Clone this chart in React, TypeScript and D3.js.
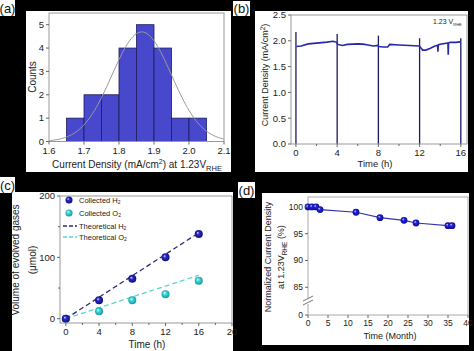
import React from "react";
import * as d3 from "d3";

const FONT = "'Liberation Sans', Arial, sans-serif";
const INK = "#222";
const AXIS = "#666";

// (a) histogram of current density at 1.23 V
const binStarts = [1.65, 1.7, 1.75, 1.8, 1.85, 1.9, 1.95, 2.0];
const binCounts = [1, 2, 2, 4, 5, 4, 1, 1];
const binWidth = 0.05;
const fitMean = 1.865;
const fitSd = 0.085;
const histTicksX = [1.6, 1.7, 1.8, 1.9, 2.0, 2.1];
const histTicksY = [0, 1, 2, 3, 4, 5];

// (b) chronoamperometry, 16 h
const stabTime = [0.05, 0.5, 1.2, 2, 3, 3.6, 3.95, 4.05, 4.5, 5, 6, 6.5, 7, 7.5, 7.95, 8.05, 8.5, 8.9, 9.1, 10, 11, 11.95, 12.05, 12.3, 12.6, 13, 13.5, 13.75, 13.78, 13.81, 14, 14.75, 14.78, 14.81, 15, 15.5, 15.95];
const stabCurrent = [1.89, 1.9, 1.94, 1.955, 1.975, 1.99, 1.97, 1.93, 1.91, 1.93, 1.94, 1.935, 1.92, 1.9, 1.91, 1.89, 1.88, 1.88, 1.93, 1.92, 1.91, 1.9, 1.88, 1.82, 1.82, 1.85, 1.9, 1.915, 1.79, 1.92, 1.935, 1.96, 1.73, 1.96, 1.97, 1.97, 1.98];
const restartTimes = [0, 4, 8, 12, 16];
const restartPeaks = [2.17, 2.13, 2.1, 2.05, 2.05];
const stabTicksX = [0, 4, 8, 12, 16];
const stabTicksY = [0, 0.5, 1, 1.5, 2, 2.5];

// (c) evolved gases
const gasTimes = [0, 4, 8, 12, 16];
const collectedH2 = [0, 30, 65, 100, 138];
const collectedO2 = [0, 12, 30, 40, 62];
const theoryTimes = [0, 16];
const theoreticalH2 = [0, 140];
const theoreticalO2 = [0, 71];
const gasTicksX = [0, 4, 8, 12, 16, 20];
const gasTicksY = [0, 100, 200];

// (d) long-term storage
const months = [0, 1, 2, 3, 12, 18, 24, 27, 35, 36];
const normalized = [100, 100, 100, 99.5, 99, 98, 97.5, 97, 96.5, 96.5];
const monthTicks = [0, 5, 10, 15, 20, 25, 30, 35, 40];
const normTicks = [0, 85, 90, 95, 100];

function PanelLabel({ x, y, w, h, text }: { x: number; y: number; w: number; h: number; text: string }) {
  return (
    <g>
      <rect x={x} y={y} width={w} height={h} fill="#fff" />
      <text x={x + w / 2} y={y + h / 2 + 4.5} textAnchor="middle" fontSize={13} fill="#111">
        {text}
      </text>
    </g>
  );
}

function LeftTicks({ scale, values, x, fmt, size = 9.5, minor = [] as number[] }: any) {
  return (
    <g>
      {values.map((v: number) => (
        <g key={"l" + v}>
          <line x1={x - 3} x2={x} y1={scale(v)} y2={scale(v)} stroke={AXIS} />
          <text x={x - 5} y={scale(v)} dy="0.35em" textAnchor="end" fontSize={size} fill={INK}>
            {fmt(v)}
          </text>
        </g>
      ))}
      {minor.map((v: number) => (
        <line key={"m" + v} x1={x - 2} x2={x} y1={scale(v)} y2={scale(v)} stroke={AXIS} />
      ))}
    </g>
  );
}

function BottomTicks({ scale, values, y, fmt, size = 9.5, minor = [] as number[] }: any) {
  return (
    <g>
      {values.map((v: number) => (
        <g key={"b" + v}>
          <line x1={scale(v)} x2={scale(v)} y1={y} y2={y + 3} stroke={AXIS} />
          <text x={scale(v)} y={y + 5} dy="0.75em" textAnchor="middle" fontSize={size} fill={INK}>
            {fmt(v)}
          </text>
        </g>
      ))}
      {minor.map((v: number) => (
        <line key={"m" + v} x1={scale(v)} x2={scale(v)} y1={y} y2={y + 2} stroke={AXIS} />
      ))}
    </g>
  );
}

export default function App() {
  // ---- (a)
  const xa = d3.scaleLinear().domain([1.6, 2.1]).range([49, 224]);
  const ya = d3.scaleLinear().domain([0, 5.5]).range([141.5, 13]);
  const total = d3.sum(binCounts);
  const amp = (total * binWidth) / (fitSd * Math.sqrt(2 * Math.PI));
  const fitPts = d3.range(1.6, 2.1001, 0.005).map((x) => [x, amp * Math.exp(-0.5 * ((x - fitMean) / fitSd) ** 2)] as [number, number]);
  const fitLine = d3.line<[number, number]>().x((d) => xa(d[0])).y((d) => ya(d[1])).curve(d3.curveBasis);

  // ---- (b)
  const xb = d3.scaleLinear().domain([-0.48, 16.6]).range([291, 467]);
  const yb = d3.scaleLinear().domain([0, 2.5]).range([144, 15]);
  const stabLine = d3.line<number>().x((d, i) => xb(stabTime[i])).y((d) => yb(d));

  // ---- (c)
  const xc = d3.scaleLinear().domain([-0.7, 20]).range([60, 232]);
  const yc = d3.scaleLinear().domain([-7, 200]).range([323, 196]);
  const theoLine = (vals: number[]) =>
    d3.line<number>().x((d, i) => xc(theoryTimes[i])).y((d) => yc(d))(vals) || "";

  // ---- (d)
  const xd = d3.scaleLinear().domain([0, 40]).range([308, 468]);
  const yd = d3.scaleLinear().domain([0, 83, 101.85]).range([315, 298, 197]);
  const normLine = d3.line<number>().x((d, i) => xd(months[i])).y((d) => yd(d));

  return (
    <svg width={474} height={351} style={{ position: "absolute", left: 0, top: 0 }} fontFamily={FONT}>
      <defs>
        <radialGradient id="ballNavy" cx="50%" cy="50%" r="55%" fx="35%" fy="32%">
          <stop offset="0%" stopColor="#d8d8ff" />
          <stop offset="35%" stopColor="#2a2acc" />
          <stop offset="100%" stopColor="#0c0c70" />
        </radialGradient>
        <radialGradient id="ballCyan" cx="50%" cy="50%" r="55%" fx="35%" fy="32%">
          <stop offset="0%" stopColor="#f0ffff" />
          <stop offset="35%" stopColor="#3ddcdc" />
          <stop offset="100%" stopColor="#178f95" />
        </radialGradient>
        <radialGradient id="ballBlue" cx="50%" cy="50%" r="55%" fx="35%" fy="32%">
          <stop offset="0%" stopColor="#e0e0ff" />
          <stop offset="35%" stopColor="#2222e0" />
          <stop offset="100%" stopColor="#0a0a80" />
        </radialGradient>
      </defs>
      <rect width={474} height={351} fill="#000" />

      {/* ---------- (a) ---------- */}
      <rect x={26} y={11} width={205} height={161} fill="#fff" />
      <PanelLabel x={0} y={0} w={15} h={16} text="(a)" />
      {binStarts.map((b, i) => (
        <rect
          key={b}
          x={xa(b)}
          y={ya(binCounts[i])}
          width={xa(b + binWidth) - xa(b)}
          height={ya(0) - ya(binCounts[i])}
          fill="#4848cc"
          stroke="#1c1c60"
          strokeWidth={0.8}
        />
      ))}
      <path d={fitLine(fitPts) || ""} fill="none" stroke="#999" strokeWidth={1} />
      <rect x={49} y={13} width={175} height={128.5} fill="none" stroke="#999" />
      <LeftTicks scale={ya} values={histTicksY} x={49} fmt={(v: number) => String(v)} />
      <BottomTicks scale={xa} values={histTicksX} y={141.5} fmt={(v: number) => v.toFixed(1)} />
      <text transform="translate(32,77) rotate(-90)" textAnchor="middle" dominantBaseline="central" fontSize={10} fill={INK}>
        Counts
      </text>
      <text x={137} y={168} textAnchor="middle" fontSize={10} fill={INK}>
        Current Density (mA/cm
        <tspan fontSize={7} dy={-4}>2</tspan>
        <tspan dy={4}>) at 1.23V</tspan>
        <tspan fontSize={7.5} dy={3}>RHE</tspan>
      </text>

      {/* ---------- (b) ---------- */}
      <rect x={255} y={11} width={213} height={161} fill="#fff" />
      <PanelLabel x={233} y={1} w={17} h={15} text="(b)" />
      {restartTimes.map((t, i) => (
        <line key={t} x1={xb(t)} x2={xb(t)} y1={yb(0)} y2={yb(restartPeaks[i])} stroke="#1a1a66" strokeWidth={1.3} />
      ))}
      <path d={stabLine(stabCurrent) || ""} fill="none" stroke="#2727aa" strokeWidth={1.6} />
      <rect x={291} y={15} width={176} height={129} fill="none" stroke="#999" />
      <LeftTicks scale={yb} values={stabTicksY} x={291} fmt={(v: number) => v.toFixed(1)} />
      <BottomTicks scale={xb} values={stabTicksX} y={144} fmt={(v: number) => String(v)} minor={[2, 6, 10, 14]} />
      <text transform="translate(265,75) rotate(-90)" textAnchor="middle" dominantBaseline="central" fontSize={9} fill={INK}>
        Current Density (mA/cm
        <tspan fontSize={6.5} dy={-3.5}>2</tspan>
        <tspan dy={3.5}>)</tspan>
      </text>
      <text x={375} y={167} textAnchor="middle" fontSize={9.5} fill={INK}>
        Time (h)
      </text>
      <text x={433} y={24} fontSize={7} fill={INK}>
        1.23 V<tspan fontSize={4} dy={1.5}>RHE</tspan>
      </text>

      {/* ---------- (c) ---------- */}
      <rect x={12} y={192} width={221} height={159} fill="#fff" />
      <PanelLabel x={0} y={177} w={15} h={16} text="(c)" />
      <path d={theoLine(theoreticalH2)} fill="none" stroke="#2c2c78" strokeWidth={1.3} strokeDasharray="5,3" />
      <path d={theoLine(theoreticalO2)} fill="none" stroke="#5cd4d4" strokeWidth={1.3} strokeDasharray="5,3" />
      {gasTimes.map((t, i) => (
        <circle key={"o" + t} cx={xc(t)} cy={yc(collectedO2[i])} r={4} fill="url(#ballCyan)" />
      ))}
      {gasTimes.map((t, i) => (
        <circle key={"h" + t} cx={xc(t)} cy={yc(collectedH2[i])} r={4} fill="url(#ballNavy)" />
      ))}
      <rect x={60} y={196} width={172} height={127} fill="none" stroke="#999" />
      <LeftTicks scale={yc} values={gasTicksY} x={60} fmt={(v: number) => String(v)} minor={[50, 150]} />
      <BottomTicks scale={xc} values={gasTicksX} y={323} fmt={(v: number) => String(v)} minor={[2, 6, 10, 14, 18]} />
      {/* legend */}
      <circle cx={69} cy={200} r={3.5} fill="url(#ballNavy)" />
      <circle cx={69} cy={213} r={3.5} fill="url(#ballCyan)" />
      <line x1={63} x2={77} y1={226} y2={226} stroke="#2c2c78" strokeWidth={1.3} strokeDasharray="4,2" />
      <line x1={63} x2={77} y1={237} y2={237} stroke="#5cd4d4" strokeWidth={1.3} strokeDasharray="4,2" />
      {[
        ["Collected H", 200],
        ["Collected O", 213],
        ["Theoretical H", 226],
        ["Theoretical O", 237],
      ].map(([label, y]) => (
        <text key={label as string} x={79} y={(y as number) + 2.5} fontSize={7.5} fill={INK}>
          {label}
          <tspan fontSize={5} dy={1.5}>2</tspan>
        </text>
      ))}
      <text transform="translate(15,260) rotate(-90)" textAnchor="middle" dominantBaseline="central" fontSize={10} fill={INK}>
        Volume of evolved gases
      </text>
      <text transform="translate(32,260) rotate(-90)" textAnchor="middle" dominantBaseline="central" fontSize={10} fill={INK}>
        (μmol)
      </text>
      <text x={147} y={348} textAnchor="middle" fontSize={10} fill={INK}>
        Time (h)
      </text>

      {/* ---------- (d) ---------- */}
      <rect x={262} y={193} width={207} height={152} fill="#fff" />
      <PanelLabel x={238} y={182} w={17} h={16} text="(d)" />
      <rect x={308} y={197} width={160} height={118} fill="none" stroke="#aaa" />
      {/* axis break */}
      <rect x={305} y={298} width={6} height={6} fill="#fff" />
      <line x1={303} x2={313} y1={301} y2={296} stroke={AXIS} strokeWidth={0.9} />
      <line x1={303} x2={313} y1={305} y2={300} stroke={AXIS} strokeWidth={0.9} />
      <path d={normLine(normalized) || ""} fill="none" stroke="#3535b0" strokeWidth={1.2} />
      {months.map((m, i) => (
        <circle key={m} cx={xd(m)} cy={yd(normalized[i])} r={3.4} fill="url(#ballBlue)" />
      ))}
      <LeftTicks scale={yd} values={normTicks} x={308} fmt={(v: number) => String(v)} size={8.5} />
      <BottomTicks scale={xd} values={monthTicks} y={315} fmt={(v: number) => String(v)} size={8.5} />
      <text transform="translate(268,257) rotate(-90)" textAnchor="middle" dominantBaseline="central" fontSize={9} fill={INK}>
        Normalized Current Density
      </text>
      <text transform="translate(281,257) rotate(-90)" textAnchor="middle" dominantBaseline="central" fontSize={9} fill={INK}>
        at 1.23V<tspan fontSize={6.5} dy={2.5}>RHE</tspan>
        <tspan dy={-2.5}> (%)</tspan>
      </text>
      <text x={390} y={339} textAnchor="middle" fontSize={9} fill={INK}>
        Time (Month)
      </text>
    </svg>
  );
}
